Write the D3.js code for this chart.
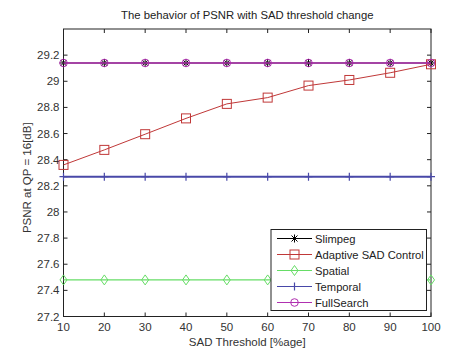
<!DOCTYPE html>
<html><head><meta charset="utf-8">
<script src="https://cdn.jsdelivr.net/npm/d3@7"></script>
<style>body{margin:0;background:#fff}svg{display:block}text{font-family:"Liberation Sans",Arial,sans-serif}</style>
</head><body><svg id="c" width="474" height="355"></svg>
<script>
const thresholds = [10,20,30,40,50,60,70,80,90,100];
const slimpeg   = [29.14,29.14,29.14,29.14,29.14,29.14,29.14,29.14,29.14,29.14];
const adaptive  = [28.36,28.475,28.595,28.716,28.827,28.875,28.967,29.01,29.065,29.13];
const spatial   = [27.48,27.48,27.48,27.48,27.48,27.48,27.48,27.48,27.48,27.48];
const temporal  = [28.27,28.27,28.27,28.27,28.27,28.27,28.27,28.27,28.27,28.27];
const fullsearch= [29.14,29.14,29.14,29.14,29.14,29.14,29.14,29.14,29.14,29.14];
const xTicks = [10,20,30,40,50,60,70,80,90,100];
const yTicks = [27.2,27.4,27.6,27.8,28,28.2,28.4,28.6,28.8,29,29.2];
const seriesNames = ["Slimpeg","Adaptive SAD Control","Spatial","Temporal","FullSearch"];

const svg = d3.select("#c");
const L=63.5, R=431, T=29, B=316.5;
const x = d3.scaleLinear().domain([10,100]).range([L,R]);
const y = d3.scaleLinear().domain([27.2,29.4]).range([B,T]);

svg.append("text").attr("x",(L+R)/2).attr("y",19).attr("text-anchor","middle")
  .attr("font-size",11.3).attr("fill","#222").text("The behavior of PSNR with SAD threshold change");

const g = svg.append("g");
g.append("rect").attr("x",L).attr("y",T).attr("width",R-L).attr("height",B-T)
  .attr("fill","none").attr("stroke","#222").attr("stroke-width",1);
const tl=4;
xTicks.forEach(v=>{
  g.append("line").attr("x1",x(v)).attr("x2",x(v)).attr("y1",B).attr("y2",B-tl).attr("stroke","#222");
  g.append("line").attr("x1",x(v)).attr("x2",x(v)).attr("y1",T).attr("y2",T+tl).attr("stroke","#222");
  g.append("text").attr("x",x(v)).attr("y",B+14).attr("text-anchor","middle").attr("font-size",11.5).attr("fill","#333").text(v);
});
yTicks.forEach(v=>{
  g.append("line").attr("y1",y(v)).attr("y2",y(v)).attr("x1",L).attr("x2",L+tl).attr("stroke","#222");
  g.append("line").attr("y1",y(v)).attr("y2",y(v)).attr("x1",R).attr("x2",R-tl).attr("stroke","#222");
  g.append("text").attr("x",L-4).attr("y",y(v)+4).attr("text-anchor","end").attr("font-size",11.5).attr("fill","#333").text(d3.format("")(v));
});
svg.append("text").attr("x",(L+R)/2).attr("y",346).attr("text-anchor","middle").attr("font-size",11.5).attr("fill","#333").text("SAD Threshold [%age]");
svg.append("text").attr("transform",`translate(31,${(T+B)/2+5}) rotate(-90)`).attr("text-anchor","middle").attr("font-size",11.5).attr("fill","#333").text("PSNR at QP = 16[dB]");

const series = [
  {name:seriesNames[0], vals:slimpeg, color:"#000000", w:1.2, marker:"star"},
  {name:seriesNames[1], vals:adaptive, color:"#c03838", w:1, marker:"square"},
  {name:seriesNames[2], vals:spatial, color:"#66dd66", w:1.2, marker:"diamond"},
  {name:seriesNames[3], vals:temporal, color:"#4848a8", w:2, marker:"plus"},
  {name:seriesNames[4], vals:fullsearch, color:"#b030b0", w:1.6, marker:"circle"}
];
const line = d3.line().x(d=>x(d[0])).y(d=>y(d[1]));
function drawMarker(sel, type, cx, cy, color){
  const m = sel.append("g").attr("transform",`translate(${cx},${cy})`).attr("fill","none").attr("stroke",color).attr("stroke-width",1);
  if(type==="square") m.append("rect").attr("x",-4.5).attr("y",-4.5).attr("width",9).attr("height",9);
  else if(type==="diamond") m.append("path").attr("d","M0,-5L3.5,0L0,5L-3.5,0Z");
  else if(type==="circle") m.append("circle").attr("r",3.8);
  else if(type==="plus") m.append("path").attr("d","M-4,0H4M0,-4V4").attr("stroke-width",1.2);
  else if(type==="star") m.append("path").attr("d","M-4,0H4M0,-4V4M-3,-3L3,3M-3,3L3,-3");
}
const plot = svg.append("g");
series.forEach(s=>{
  const pts = thresholds.map((t,i)=>[t,s.vals[i]]);
  plot.append("path").attr("d",line(pts)).attr("fill","none").attr("stroke",s.color).attr("stroke-width",s.w);
  pts.forEach(p=>drawMarker(plot,s.marker,x(p[0]),y(p[1]),s.color));
});

const lg = svg.append("g");
lg.append("rect").attr("x",271).attr("y",229.5).attr("width",155.5).attr("height",81)
  .attr("fill","#fff").attr("stroke","#222");
series.forEach((s,i)=>{
  const yy = 238.5 + i*16;
  lg.append("line").attr("x1",277).attr("x2",312).attr("y1",yy).attr("y2",yy).attr("stroke",s.color).attr("stroke-width",1);
  drawMarker(lg,s.marker,294.5,yy,s.color);
  lg.append("text").attr("x",315).attr("y",yy+4.5).attr("font-size",11.2).attr("fill","#222").text(s.name);
});
</script></body></html>
